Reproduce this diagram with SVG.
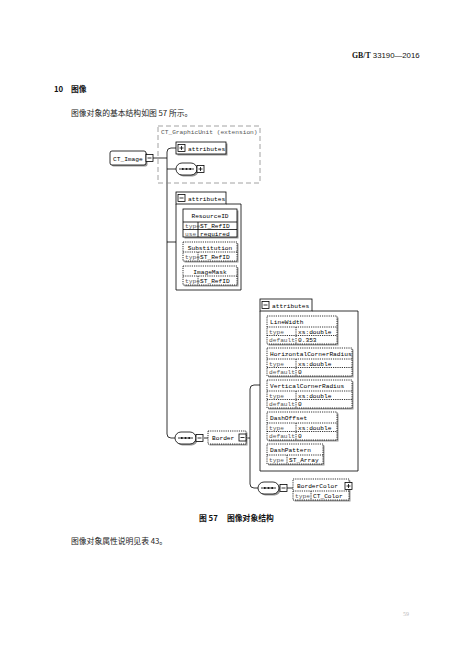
<svg xmlns="http://www.w3.org/2000/svg" width="474" height="670" viewBox="0 0 474 670">
<defs>
<style>
.bx{fill:#fff;stroke:#000;stroke-width:0.8}
.dt{fill:#fff;stroke:#000;stroke-width:0.8;stroke-dasharray:1.2 1}
.sh{fill:#9a9a9a}
.ln{fill:none;stroke:#000;stroke-width:0.8}
.t{font-family:"Liberation Mono",monospace;font-size:6.2px;fill:#000}
.g{font-family:"Liberation Mono",monospace;font-size:6.2px;fill:#555}
.cn{font-family:"Noto Sans CJK SC",sans-serif;font-size:7.8px;fill:#222}
.cb{font-family:"Noto Sans CJK SC",sans-serif;font-size:7.8px;font-weight:bold;fill:#111}
</style>
<g id="seqsym">
<line x1="3" y1="6" x2="18" y2="6" stroke="#000" stroke-width="0.8"/>
<rect x="6" y="5.2" width="1.6" height="1.6" fill="#000"/>
<rect x="9.7" y="5.2" width="1.6" height="1.6" fill="#000"/>
<rect x="13.4" y="5.2" width="1.6" height="1.6" fill="#000"/>
</g>
<g id="minus"><rect x="0" y="0" width="7" height="7" class="bx"/><line x1="1.5" y1="3.5" x2="5.5" y2="3.5" stroke="#000" stroke-width="0.8"/></g>
<g id="plus"><rect x="0" y="0" width="7" height="7" class="bx"/><line x1="1.5" y1="3.5" x2="5.5" y2="3.5" stroke="#000" stroke-width="0.8"/><line x1="3.5" y1="1.5" x2="3.5" y2="5.5" stroke="#000" stroke-width="0.8"/></g>
</defs>
<rect width="474" height="670" fill="#fff"/>

<!-- page text -->
<text x="352" y="58" font-size="7.8" font-family="Liberation Sans,sans-serif" fill="#111"><tspan font-family="Liberation Serif,serif" font-weight="bold">GB/T</tspan> 33190—2016</text>
<text x="54" y="92" class="cb">10</text>
<text x="71" y="92" class="cb">图像</text>
<text x="71" y="116" class="cn">图像对象的基本结构如图 57 所示。</text>
<text x="199" y="521" class="cb">图 57</text>
<text x="227" y="521" class="cb">图像对象结构</text>
<text x="71" y="544" class="cn">图像对象属性说明见表 43。</text>
<text x="403" y="616" font-size="6" font-family="Liberation Serif,serif" fill="#bbb">59</text>

<!-- connectors -->
<g id="connectors">
<line x1="153" y1="158" x2="167" y2="158" class="ln"/>
<path d="M176,148 H171 Q167,148 167,152 V434 Q167,438 171,438 H175" class="ln"/>
<line x1="167" y1="169" x2="176" y2="169" class="ln"/>
<line x1="167" y1="242" x2="176" y2="242" class="ln"/>
<line x1="204" y1="438" x2="208" y2="438" class="ln"/>
<line x1="246" y1="438" x2="250" y2="438" class="ln"/>
<path d="M260,385 H254 Q250,385 250,389 V484 Q250,488 254,488 H258" class="ln"/>
<line x1="287" y1="488" x2="293" y2="488" class="ln"/>
</g>

<!-- extension -->
<g id="ext">
<rect x="158" y="126" width="102" height="57" fill="none" stroke="#8a8a8a" stroke-width="0.8" stroke-dasharray="5 3"/>
<text x="161" y="134" class="g" font-size="6">CT_GraphicUnit (extension)</text>
</g>

<g id="ct_image">
<rect x="111.5" y="152.5" width="36" height="14" rx="2" class="sh"/>
<rect x="110" y="151" width="36" height="14" rx="2" class="bx"/>
<text x="113" y="160.5" class="t">CT_Image</text>
<use href="#minus" x="146" y="154.5"/>
</g>

<g id="ext_attributes">
<rect x="177.5" y="143.5" width="50" height="12" class="sh"/>
<rect x="176" y="142" width="50" height="12" class="bx"/>
<use href="#plus" x="178" y="144.5"/>
<text x="188" y="150.5" class="t">attributes</text>
</g>

<g id="ext_sequence">
<rect x="177.5" y="164.5" width="21" height="12" rx="6" class="sh"/>
<rect x="176" y="163" width="21" height="12" rx="6" class="bx"/>
<use href="#seqsym" x="176" y="163"/>
<use href="#plus" x="197" y="165.5"/>
</g>

<!-- attributes 1 -->
<g id="attributes1">
<rect x="176" y="192" width="50" height="12" class="bx"/>
<path d="M176,204 V290 H241 V204 H226" class="ln"/>
<use href="#minus" x="178" y="194.5"/>
<text x="188" y="200.5" class="t">attributes</text>
</g>

<g id="resourceid">
<rect x="184.5" y="210.5" width="54" height="28" class="sh"/>
<rect x="183" y="209" width="54" height="28" class="bx"/>
<text x="210" y="217.5" class="t" text-anchor="middle">ResourceID</text>
<line x1="183" y1="222" x2="237" y2="222" class="ln"/>
<line x1="183" y1="229.5" x2="237" y2="229.5" class="ln"/>
<line x1="198" y1="222" x2="198" y2="237" class="ln"/>
<text x="185" y="228" class="g">type</text><text x="200" y="228" class="t">ST_RefID</text>
<text x="185" y="235.5" class="g">use</text><text x="200" y="235.5" class="t">required</text>
</g>

<g id="substitution">
<rect x="184.5" y="243.5" width="54" height="19" class="sh"/>
<rect x="183" y="242" width="54" height="19" class="dt"/>
<text x="210" y="249.5" class="t" text-anchor="middle">Substitution</text>
<line x1="183" y1="252" x2="237" y2="252" class="ln" stroke-dasharray="1.2 1"/>
<line x1="198" y1="252" x2="198" y2="261" class="ln" stroke-dasharray="1.2 1"/>
<text x="185" y="258.5" class="g">type</text><text x="200" y="258.5" class="t">ST_RefID</text>
</g>

<g id="imagemask">
<rect x="184.5" y="267.5" width="54" height="19" class="sh"/>
<rect x="183" y="266" width="54" height="19" class="dt"/>
<text x="210" y="273.5" class="t" text-anchor="middle">ImageMask</text>
<line x1="183" y1="276" x2="237" y2="276" class="ln" stroke-dasharray="1.2 1"/>
<line x1="198" y1="276" x2="198" y2="285" class="ln" stroke-dasharray="1.2 1"/>
<text x="185" y="282.5" class="g">type</text><text x="200" y="282.5" class="t">ST_RefID</text>
</g>

<!-- border branch -->
<g id="sequence1">
<rect x="176.5" y="433.5" width="21" height="12" rx="6" class="sh"/>
<rect x="175" y="432" width="21" height="12" rx="6" class="bx"/>
<use href="#seqsym" x="175" y="432"/>
<use href="#minus" x="196" y="434.5"/>
</g>

<g id="border">
<rect x="209.5" y="432.5" width="38" height="13" class="sh"/>
<rect x="208" y="431" width="38" height="13" class="dt"/>
<text x="212" y="440" class="t">Border</text>
<use href="#minus" x="239" y="434"/>
</g>

<!-- attributes 2 -->
<g id="attributes2">
<rect x="260" y="299" width="52" height="12" class="bx"/>
<path d="M260,311 V471 H358 V311 H312" class="ln"/>
<use href="#minus" x="262" y="301.5"/>
<text x="272" y="307.5" class="t">attributes</text>
</g>

<g id="linewidth">
<rect x="268.5" y="317.5" width="70" height="28" class="sh"/>
<rect x="267" y="316" width="70" height="28" class="dt"/>
<text x="270" y="324" class="t">LineWidth</text>
<line x1="267" y1="327" x2="337" y2="327" class="ln" stroke-dasharray="1.2 1"/>
<line x1="267" y1="335.5" x2="337" y2="335.5" class="ln" stroke-dasharray="1.2 1"/>
<line x1="296" y1="327" x2="296" y2="344" class="ln" stroke-dasharray="1.2 1"/>
<text x="269" y="333.5" class="g">type</text><text x="298" y="333.5" class="t">xs:double</text>
<text x="269" y="342" class="g">default</text><text x="298" y="342" class="t">0.353</text>
</g>

<g id="horizontalcornerradius">
<rect x="268.5" y="349.5" width="85" height="28" class="sh"/>
<rect x="267" y="348" width="85" height="28" class="dt"/>
<text x="270" y="356" class="t">HorizontalCornerRadius</text>
<line x1="267" y1="359" x2="352" y2="359" class="ln" stroke-dasharray="1.2 1"/>
<line x1="267" y1="367.5" x2="352" y2="367.5" class="ln" stroke-dasharray="1.2 1"/>
<line x1="296" y1="359" x2="296" y2="376" class="ln" stroke-dasharray="1.2 1"/>
<text x="269" y="365.5" class="g">type</text><text x="298" y="365.5" class="t">xs:double</text>
<text x="269" y="374" class="g">default</text><text x="298" y="374" class="t">0</text>
</g>

<g id="verticalcornerradius">
<rect x="268.5" y="381.5" width="85" height="28" class="sh"/>
<rect x="267" y="380" width="85" height="28" class="dt"/>
<text x="270" y="388" class="t">VerticalCornerRadius</text>
<line x1="267" y1="391" x2="352" y2="391" class="ln" stroke-dasharray="1.2 1"/>
<line x1="267" y1="399.5" x2="352" y2="399.5" class="ln" stroke-dasharray="1.2 1"/>
<line x1="296" y1="391" x2="296" y2="408" class="ln" stroke-dasharray="1.2 1"/>
<text x="269" y="397.5" class="g">type</text><text x="298" y="397.5" class="t">xs:double</text>
<text x="269" y="406" class="g">default</text><text x="298" y="406" class="t">0</text>
</g>

<g id="dashoffset">
<rect x="268.5" y="413.5" width="70" height="28" class="sh"/>
<rect x="267" y="412" width="70" height="28" class="dt"/>
<text x="270" y="420" class="t">DashOffset</text>
<line x1="267" y1="423" x2="337" y2="423" class="ln" stroke-dasharray="1.2 1"/>
<line x1="267" y1="431.5" x2="337" y2="431.5" class="ln" stroke-dasharray="1.2 1"/>
<line x1="296" y1="423" x2="296" y2="440" class="ln" stroke-dasharray="1.2 1"/>
<text x="269" y="429.5" class="g">type</text><text x="298" y="429.5" class="t">xs:double</text>
<text x="269" y="438" class="g">default</text><text x="298" y="438" class="t">0</text>
</g>

<g id="dashpattern">
<rect x="268.5" y="445.5" width="56" height="20" class="sh"/>
<rect x="267" y="444" width="56" height="20" class="dt"/>
<text x="270" y="452" class="t">DashPattern</text>
<line x1="267" y1="455" x2="323" y2="455" class="ln" stroke-dasharray="1.2 1"/>
<line x1="287" y1="455" x2="287" y2="464" class="ln" stroke-dasharray="1.2 1"/>
<text x="269" y="461.5" class="g">type</text><text x="289" y="461.5" class="t">ST_Array</text>
</g>

<g id="sequence2">
<rect x="259.5" y="483.5" width="21" height="12" rx="6" class="sh"/>
<rect x="258" y="482" width="21" height="12" rx="6" class="bx"/>
<use href="#seqsym" x="258" y="482"/>
<use href="#minus" x="280" y="484.5"/>
</g>

<g id="bordercolor">
<rect x="294.5" y="480.5" width="56" height="21" class="sh"/>
<rect x="293" y="479" width="56" height="21" class="dt"/>
<text x="297" y="487.5" class="t">BorderColor</text>
<line x1="293" y1="491" x2="349" y2="491" class="ln" stroke-dasharray="1.2 1"/>
<line x1="311" y1="491" x2="311" y2="500" class="ln" stroke-dasharray="1.2 1"/>
<text x="295" y="497.5" class="g">type</text><text x="313" y="497.5" class="t">CT_Color</text>
<use href="#plus" x="345" y="482.5"/>
</g>
</svg>
